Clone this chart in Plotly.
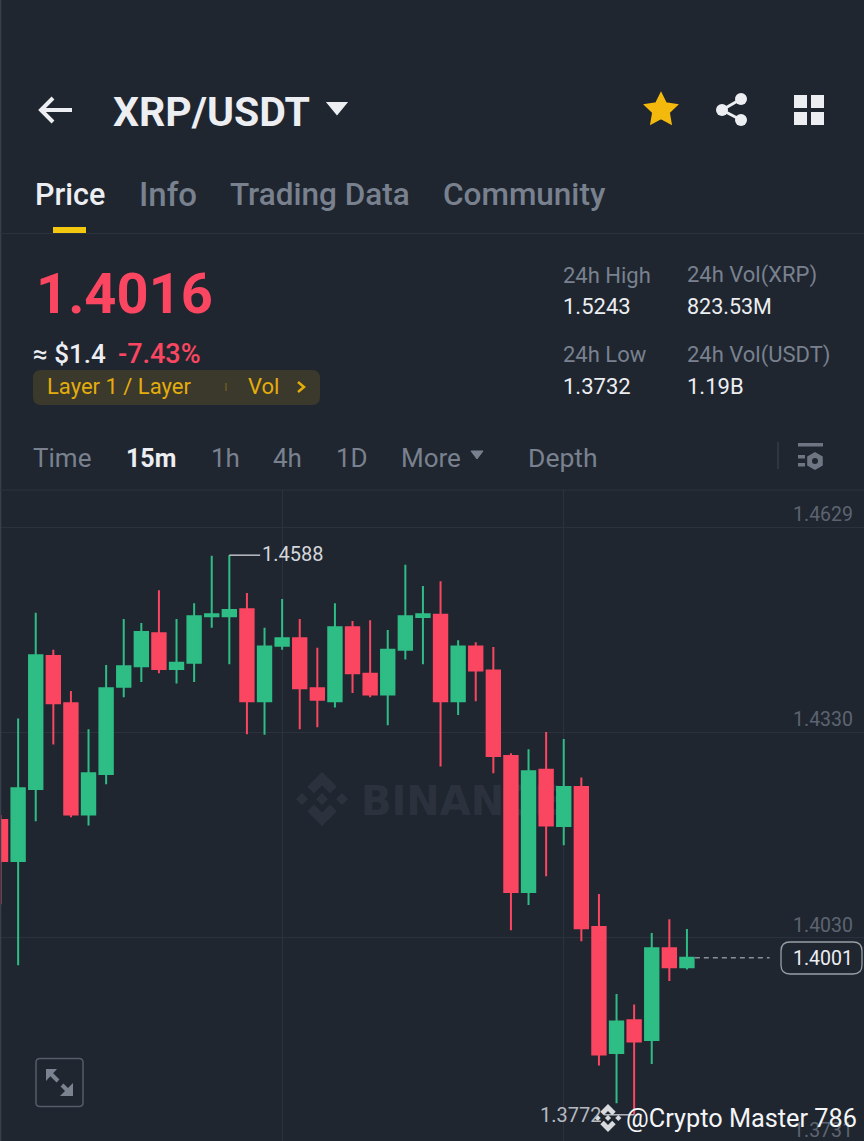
import math
import plotly.graph_objects as go

# candles, oldest first
opens = [1.4202, 1.4142, 1.4247, 1.4441, 1.4372, 1.4210, 1.4269, 1.4396, 1.4426, 1.4474,
         1.4422, 1.4431, 1.4499, 1.4499, 1.4509, 1.4375, 1.4456, 1.4467, 1.4394, 1.4375,
         1.4483, 1.4415, 1.4385, 1.4450, 1.4498, 1.4501, 1.4375, 1.4455, 1.4420, 1.4295,
         1.4097, 1.4275, 1.4193, 1.4250, 1.4046, 1.3862, 1.3910, 1.3881, 1.4015, 1.3987]
highs = [1.4209, 1.4350, 1.4504, 1.4450, 1.4390, 1.4334, 1.4428, 1.4495, 1.4489, 1.4537,
         1.4495, 1.4518, 1.4587, 1.4588, 1.4533, 1.4482, 1.4524, 1.4495, 1.4453, 1.4518,
         1.4492, 1.4493, 1.4479, 1.4574, 1.4543, 1.4550, 1.4464, 1.4461, 1.4454, 1.4299,
         1.4305, 1.4330, 1.4320, 1.4264, 1.4094, 1.3948, 1.3933, 1.4037, 1.4057, 1.4043]
lows = [1.4079, 1.3990, 1.4200, 1.4312, 1.4206, 1.4194, 1.4254, 1.4381, 1.4403, 1.4416,
        1.4401, 1.4403, 1.4482, 1.4429, 1.4327, 1.4326, 1.4450, 1.4334, 1.4337, 1.4366,
        1.4387, 1.4381, 1.4340, 1.4436, 1.4429, 1.4280, 1.4355, 1.4375, 1.4270, 1.4041,
        1.4078, 1.4120, 1.4165, 1.4025, 1.3844, 1.3789, 1.3772, 1.3846, 1.3967, 1.3984]
closes = [1.4142, 1.4248, 1.4442, 1.4372, 1.4210, 1.4270, 1.4394, 1.4426, 1.4476, 1.4422,
          1.4431, 1.4499, 1.4502, 1.4508, 1.4375, 1.4455, 1.4467, 1.4394, 1.4377, 1.4483,
          1.4416, 1.4385, 1.4450, 1.4499, 1.4502, 1.4375, 1.4455, 1.4420, 1.4295, 1.4097,
          1.4273, 1.4194, 1.4250, 1.4044, 1.3860, 1.3908, 1.3879, 1.4015, 1.3987, 1.4001]
candle_idx = list(range(len(opens)))

price_ticks = [1.4629, 1.4330, 1.4030, 1.3731]
price_labels = ['1.4629', '1.4330', '1.4030', '1.3731']
time_grid = [16, 32]
last_price = 1.4001
max_idx, max_price = 13, 1.4588
min_idx, min_price = 36, 1.3772

W, H = 864, 1145
BG = '#1f2630'
GRID = '#2c323d'
RED = '#fb4661'
GREEN = '#2ebd85'
GOLD = '#e3ad0c'
GREY = '#79818f'
WHITE = '#eceef2'
FONT = 'Roboto'


def px(x):
    return x / W


def py(y):
    return 1 - y / H


def path(points, close=True):
    s = 'M' + ' L'.join(f'{px(x):.5f},{py(y):.5f}' for x, y in points)
    return s + (' Z' if close else '')


fig = go.Figure()
fig.add_trace(
    go.Candlestick(x=candle_idx, open=opens, high=highs, low=lows, close=closes,
                   increasing=dict(line=dict(color=GREEN, width=2), fillcolor=GREEN),
                   decreasing=dict(line=dict(color=RED, width=2), fillcolor=RED),
                   whiskerwidth=0, hoverinfo='skip', showlegend=False)
)


def poly(points, color, line=None, lw=1, close=True, layer='above'):
    fig.add_shape(type='path', xref='paper', yref='paper', path=path(points, close),
                  fillcolor=color if close else 'rgba(0,0,0,0)',
                  line=dict(color=line or color, width=lw if line or not close else 0),
                  layer=layer)


def seg(x0, y0, x1, y1, color, lw=1, dash='solid', layer='above'):
    fig.add_shape(type='line', xref='paper', yref='paper', x0=px(x0), x1=px(x1), y0=py(y0), y1=py(y1),
                  line=dict(color=color, width=lw, dash=dash), layer=layer)


def box(x0, y0, x1, y1, color, lw=0, fill=None):
    fig.add_shape(type='rect', xref='paper', yref='paper', x0=px(x0), x1=px(x1), y0=py(y0), y1=py(y1),
                  fillcolor=fill or 'rgba(0,0,0,0)', line=dict(color=color, width=lw))


def rounded(x0, y0, x1, y1, r, fill, line, lw):
    # rounded rectangle as svg path
    d = (f'M{px(x0 + r)},{py(y0)} L{px(x1 - r)},{py(y0)} Q{px(x1)},{py(y0)} {px(x1)},{py(y0 + r)} '
         f'L{px(x1)},{py(y1 - r)} Q{px(x1)},{py(y1)} {px(x1 - r)},{py(y1)} '
         f'L{px(x0 + r)},{py(y1)} Q{px(x0)},{py(y1)} {px(x0)},{py(y1 - r)} '
         f'L{px(x0)},{py(y0 + r)} Q{px(x0)},{py(y0)} {px(x0 + r)},{py(y0)} Z')
    fig.add_shape(type='path', xref='paper', yref='paper', path=d, fillcolor=fill,
                  line=dict(color=line, width=lw))


def circle(cx, cy, r, color):
    fig.add_shape(type='circle', xref='paper', yref='paper', x0=px(cx - r), x1=px(cx + r),
                  y0=py(cy + r), y1=py(cy - r), fillcolor=color, line=dict(width=0))


def label(x, cy, text, size, color, weight=400, anchor='left'):
    fig.add_annotation(xref='paper', yref='paper', x=px(x), y=py(cy), text=text, showarrow=False,
                       xanchor=anchor, yanchor='middle', borderpad=0, borderwidth=0,
                       font=dict(family=FONT, size=size, color=color, weight=weight))


def binance_logo(cx, cy, r, color, layer='above'):
    d = 0.22
    for ox, oy in [(0, 0), (-0.74, 0), (0.74, 0)]:
        poly([(cx + (ox - d) * r, cy + oy * r), (cx + ox * r, cy - d * r),
              (cx + (ox + d) * r, cy + oy * r), (cx + ox * r, cy + d * r)], color, layer=layer)
    for s in (-1, 1):
        poly([(cx, cy + s * r), (cx + 0.55 * r, cy + s * 0.45 * r), (cx + 0.3 * r, cy + s * 0.2 * r),
              (cx, cy + s * 0.5 * r), (cx - 0.3 * r, cy + s * 0.2 * r), (cx - 0.55 * r, cy + s * 0.45 * r)],
             color, layer=layer)


# watermark sits under the candles
binance_logo(322, 799, 27, '#2c323d', layer='below')
fig.add_shape(type='rect', xref='paper', yref='paper', x0=px(358), x1=px(640), y0=py(820), y1=py(776),
              layer='below', line=dict(width=0), fillcolor='rgba(0,0,0,0)',
              label=dict(text='BINANCE', textposition='middle left', padding=0,
                         font=dict(family='DejaVu Sans', size=40, color='#2c323d', weight=700)))

# frame and separators
seg(0.5, 0, 0.5, H, '#3a404b', 1.5)
seg(0, 233.5, W, 233.5, GRID, 1)
seg(0, 490, W, 490, GRID, 1)

# header
poly([(72, 110), (41, 110)], WHITE, close=False, lw=4)
poly([(53, 98), (41, 110), (53, 122)], WHITE, close=False, lw=4)
label(113, 112, 'XRP/USDT', 41, WHITE, 700)
poly([(328, 103), (346, 103), (337, 114)], WHITE, line=WHITE, lw=2)

star = []
for i in range(10):
    rr = 16 if i % 2 == 0 else 8
    ang = -math.pi / 2 + i * math.pi / 5
    star.append((661 + rr * math.cos(ang), 110 + rr * math.sin(ang)))
poly(star, '#f3b90c', line='#f3b90c', lw=2.5)

seg(722, 110, 741, 99, WHITE, 3)
seg(722, 110, 741, 120, WHITE, 3)
circle(741, 99, 6, WHITE)
circle(722, 110, 6, WHITE)
circle(741, 120, 6, WHITE)

for x0, y0 in [(794, 95), (811, 95), (794, 112), (811, 112)]:
    box(x0, y0, x0 + 13, y0 + 13, WHITE, 0, WHITE)

# tabs
label(35, 194, 'Price', 30.5, WHITE, 500)
label(139, 194, 'Info', 33, GREY, 500)
label(230, 194, 'Trading Data', 31.5, GREY, 500)
label(443, 194, 'Community', 31.5, GREY, 500)
box(53, 227, 86, 233, GOLD, 0, '#f3c80f')

# price block
label(36, 294, '1.4016', 56, RED, 700)
label(33, 354, '≈ $1.4', 26, WHITE, 500)
label(118, 354, '-7.43%', 27, RED, 500)
rounded(33, 370, 320, 405, 8, '#3b382c', '#3b382c', 0)
label(47, 387, 'Layer 1 / Layer', 22, GOLD)
seg(226, 383, 226, 391, '#6b5d22', 1.5)
label(248, 387, 'Vol', 22, GOLD)
poly([(298, 382), (304, 387), (298, 392)], GOLD, close=False, lw=2.5)

label(563, 275, '24h High', 22, GREY)
label(563, 306, '1.5243', 22, WHITE)
label(687, 275, '24h Vol(XRP)', 22, GREY)
label(687, 306, '823.53M', 21.5, WHITE)
label(563, 355, '24h Low', 22, GREY)
label(563, 386, '1.3732', 22, WHITE)
label(687, 355, '24h Vol(USDT)', 22, GREY)
label(687, 386, '1.19B', 22, WHITE)

# interval row
label(33, 458, 'Time', 26, GREY)
label(126, 458, '15m', 25, WHITE, 700)
label(211, 458, '1h', 26, GREY)
label(273, 458, '4h', 26, GREY)
label(336, 458, '1D', 26, GREY)
label(401, 458, 'More', 26, GREY)
poly([(471, 451), (483, 451), (477, 459)], GREY, line=GREY, lw=1)
label(528, 457.5, 'Depth', 26.5, GREY)
seg(778, 442, 778, 469, '#363c47', 1.5)
box(798, 443, 823, 446.5, '#6e7683', 0, '#6e7683')
box(798, 455, 805, 458.5, '#6e7683', 0, '#6e7683')
box(798, 463, 805, 466.5, '#6e7683', 0, '#6e7683')
hexa = [(815 + 9 * math.cos(math.pi / 6 + i * math.pi / 3), 461 + 9 * math.sin(math.pi / 6 + i * math.pi / 3))
        for i in range(6)]
poly(hexa, '#6e7683')
circle(815, 461, 3, BG)

# high / low / last price markers
fig.add_shape(type='line', xref='x', yref='y', x0=max_idx, x1=max_idx + 1.75, y0=max_price, y1=max_price,
              line=dict(color='#d5d7dc', width=1.3))
fig.add_annotation(xref='x', yref='y', x=max_idx + 1.9, y=max_price, text=f'{max_price:.4f}', showarrow=False,
                   xanchor='left', yanchor='middle', xshift=-1, yshift=1, borderpad=0, borderwidth=0,
                   font=dict(family=FONT, size=20, color='#d5d7dc'))
fig.add_shape(type='line', xref='x', yref='y', x0=min_idx - 1.7, x1=min_idx, y0=min_price, y1=min_price,
              line=dict(color='#c9ccd2', width=1.3))
fig.add_annotation(xref='x', yref='y', x=min_idx - 1.9, y=min_price, text=f'{min_price:.4f}', showarrow=False,
                   xanchor='right', yanchor='middle', borderpad=0, borderwidth=0,
                   font=dict(family=FONT, size=20, color='#b5b9c0'))
fig.add_shape(type='line', xref='x', yref='y', x0=candle_idx[-1] + 0.45, x1=43.7, y0=last_price, y1=last_price,
              line=dict(color='#8b909a', width=1.3, dash='5px,4px'))
rounded(781, 942, 862, 974, 9, BG, '#9a9ea6', 1.3)
label(822.5, 958.5, f'{last_price:.4f}', 19.5, WHITE, anchor='center')

# expand button
rounded(36, 1058.5, 83, 1106.5, 4, 'rgba(0,0,0,0)', '#565c68', 1.5)
seg(51, 1074, 58, 1081, '#7b8391', 4)
seg(62, 1085, 69, 1092, '#7b8391', 4)
poly([(46, 1069), (57, 1069), (46, 1081)], '#7b8391')
poly([(73, 1096), (60, 1096), (73, 1083)], '#7b8391')

# credit
binance_logo(608, 1118, 14, '#d8dade')
label(626, 1118, '@Crypto Master 786', 25.3, '#f4f5f7', 400)

fig.update_layout(
    width=W, height=H, autosize=False,
    margin=dict(l=0, r=0, t=0, b=0),
    paper_bgcolor=BG, plot_bgcolor=BG,
    boxgap=0.24, boxgroupgap=0,
    showlegend=False,
    hovermode=False,
    xaxis=dict(range=[-0.03, 49.06], rangeslider=dict(visible=False), tickvals=time_grid, showticklabels=False,
               showgrid=True, gridcolor=GRID, gridwidth=1, zeroline=False, showline=False, ticks='', fixedrange=True),
    yaxis=dict(range=[1.3728, 1.4683], domain=[0, (H - 490) / H], side='right', tickvals=price_ticks,
               ticktext=price_labels, ticklabelposition='inside', ticklabelshift=-13, ticklabelstandoff=8,
               tickfont=dict(family=FONT, size=19.5, color='#5d6471'), showgrid=True, gridcolor=GRID, gridwidth=1,
               zeroline=False, showline=False, ticks='', fixedrange=True),
)

fig.write_html("out.html", config=dict(displayModeBar=False),
               post_script="document.body.style.margin='0';document.body.style.overflow='hidden';"
                           f"document.documentElement.style.background='{BG}';")
